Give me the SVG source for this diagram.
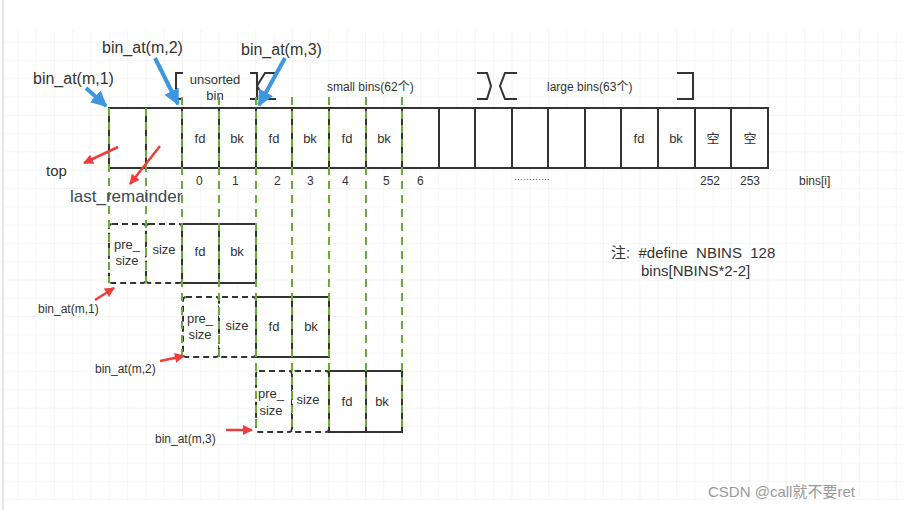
<svg xmlns="http://www.w3.org/2000/svg" width="910" height="510" viewBox="0 0 910 510">
<defs>
<pattern id="grid" width="18.3" height="18.3" patternUnits="userSpaceOnUse" x="0" y="6">
<path d="M18.3 0V18.3H0" fill="none" stroke="#ececec" stroke-width="1"/>
</pattern>
<marker id="blue" viewBox="0 0 10 10" refX="9" refY="5" markerWidth="4" markerHeight="4" orient="auto"><path d="M0 0L10 5L0 10z" fill="#3c97e0"/></marker>
<marker id="red" viewBox="0 0 10 10" refX="9" refY="5" markerWidth="5" markerHeight="4" orient="auto"><path d="M0 0L10 5L0 10z" fill="#f03c3c"/></marker>
</defs>
<style>
text{font-family:"Liberation Sans",Arial,sans-serif;fill:#333;}
.c{fill:#fff;stroke:#333;stroke-width:2;}
.d{fill:#fff;stroke:#333;stroke-width:2;stroke-dasharray:6 4;}
.t{font-size:13px;text-anchor:middle;}
.s{font-size:12px;}
.g{stroke:#6aaa3a;stroke-width:2;stroke-dasharray:8 6;fill:none;}
.b{stroke:#3c97e0;stroke-width:4;marker-end:url(#blue);fill:none;}
.r{stroke:#f03c3c;stroke-width:2.5;marker-end:url(#red);fill:none;}
.br{fill:none;stroke:#333;stroke-width:2;}
</style>
<rect width="910" height="510" fill="#fff"/>
<rect x="5" y="30" width="900" height="470" fill="url(#grid)"/>
<line x1="3" y1="0" x2="3" y2="510" stroke="#ccc"/>
<g id="bins-row">
<rect class="c" x="109" y="108" width="659" height="60"/>
<path d="M146 108V168M182 108V168M219 108V168M256 108V168M292 108V168M329 108V168M366 108V168M402 108V168M439 108V168M475 108V168M512 108V168M548 108V168M585 108V168M621 108V168M658 108V168M695 108V168M731 108V168" stroke="#333" stroke-width="2"/>
<text class="t" x="200" y="143">fd</text><text class="t" x="237" y="143">bk</text>
<text class="t" x="274" y="143">fd</text><text class="t" x="310" y="143">bk</text>
<text class="t" x="347" y="143">fd</text><text class="t" x="384" y="143">bk</text>
<text class="t" x="639" y="143">fd</text><text class="t" x="676" y="143">bk</text>
<text class="t" x="713" y="143" style="font-family:'Noto Sans CJK SC',sans-serif">空</text>
<text class="t" x="750" y="143" style="font-family:'Noto Sans CJK SC',sans-serif">空</text>
<text class="s" x="196" y="185">0</text><text class="s" x="232" y="185">1</text><text class="s" x="274" y="185">2</text>
<text class="s" x="307" y="185">3</text><text class="s" x="342" y="185">4</text><text class="s" x="383" y="185">5</text>
<text class="s" x="417" y="185">6</text>
<text class="s" x="514" y="180" style="font-size:9px">…………</text>
<text class="s" x="700" y="185">252</text><text class="s" x="740" y="185">253</text>
<text class="s" x="799" y="185">bins[i]</text>
</g>
<g id="brackets">
<path class="br" d="M183 73H176V99H183M250 73H257V99H250M276 73H265L257 86L265 99H276"/>
<path class="br" d="M477 73H487L491 86L487 99H477M517 73H505L500 86L505 99H517M677 73H693V99H677"/>
<text class="t" x="215" y="84">unsorted</text>
<text class="t" x="215" y="100">bin</text>
<text class="s" x="327" y="91">small bins(62<tspan style="font-family:'Noto Sans CJK SC',sans-serif">个</tspan>)</text>
<text class="s" x="547" y="91">large bins(63<tspan style="font-family:'Noto Sans CJK SC',sans-serif">个</tspan>)</text>
</g>
<g id="chunk1">
<rect class="d" x="109" y="224" width="37" height="59" rx="3"/><rect class="d" x="146" y="224" width="36" height="59" rx="3"/>
<rect class="c" x="182" y="224" width="37" height="59"/><rect class="c" x="219" y="224" width="37" height="59"/>
<text class="t" x="127" y="249">pre_</text><text class="t" x="127" y="265">size</text>
<text class="t" x="164" y="254">size</text><text class="t" x="200" y="256">fd</text><text class="t" x="237" y="256">bk</text>
</g>
<g id="chunk2">
<rect class="d" x="183" y="297" width="36" height="60" rx="3"/><rect class="d" x="219" y="297" width="37" height="60" rx="3"/>
<rect class="c" x="256" y="297" width="36" height="60"/><rect class="c" x="292" y="297" width="37" height="60"/>
<text class="t" x="200" y="323">pre_</text><text class="t" x="200" y="339">size</text>
<text class="t" x="237" y="330">size</text><text class="t" x="274" y="331">fd</text><text class="t" x="311" y="331">bk</text>
</g>
<g id="chunk3">
<rect class="d" x="256" y="371" width="36" height="61" rx="3"/><rect class="d" x="292" y="371" width="37" height="61" rx="3"/>
<rect class="c" x="329" y="371" width="37" height="61"/><rect class="c" x="366" y="371" width="36" height="61"/>
<text class="t" x="271" y="398">pre_</text><text class="t" x="271" y="415">size</text>
<text class="t" x="308" y="404">size</text><text class="t" x="347" y="406">fd</text><text class="t" x="382" y="406">bk</text>
</g>
<g id="connectors">
<path class="g" d="M109 108V283M146 108V283M182 97V357M219 97V357M256 97V432M292 97V432M329 97V432M366 97V432M402 97V432"/>
<path class="b" d="M86 88L106 106"/>
<path class="b" d="M155 58L178 104"/>
<path class="b" d="M285 58L259 105"/>
<path class="r" d="M118 147L84 163"/>
<path class="r" d="M160 146L130 184"/>
<path class="r" d="M95 300L114 288"/>
<path class="r" d="M160 361L184 356"/>
<path class="r" d="M226 430L252 430"/>
</g>
<g id="labels">
<text x="33" y="84" style="font-size:16px">bin_at(m,1)</text>
<text x="102" y="53" style="font-size:16px">bin_at(m,2)</text>
<text x="241" y="55" style="font-size:16px">bin_at(m,3)</text>
<text x="46" y="176" style="font-size:15px">top</text>
<text x="70" y="202" style="font-size:17px;fill:#3a4a5a">last_remainder</text>
<text x="38" y="313" class="s">bin_at(m,1)</text>
<text x="95" y="373" class="s">bin_at(m,2)</text>
<text x="155" y="443" class="s">bin_at(m,3)</text>
<text x="611" y="258" style="font-size:15px" xml:space="preserve"><tspan style="font-family:'Noto Sans CJK SC',sans-serif">注</tspan>:  #define  NBINS  128</text>
<text x="641" y="276" style="font-size:15px">bins[NBINS*2-2]</text>
<text x="708" y="497" style="font-size:15px;fill:#999">CSDN @call<tspan style="font-family:'Noto Sans CJK SC',sans-serif">就不要</tspan>ret</text>
</g>
</svg>
